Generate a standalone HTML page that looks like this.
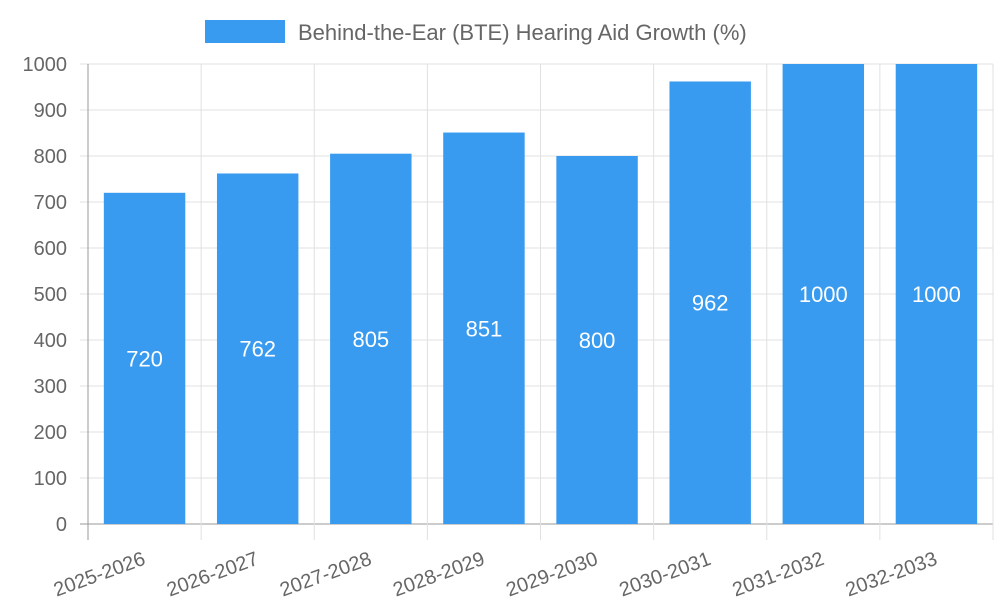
<!DOCTYPE html>
<html><head><meta charset="utf-8"><style>
html,body{margin:0;padding:0;background:#fff;}
svg{display:block;font-family:"Liberation Sans",sans-serif;}
</style></head><body>
<svg id="chart" width="1000" height="600">
<g>
<rect x="205" y="20" width="80" height="23" fill="#389bf0"></rect>
<text x="298" y="40" font-size="22" fill="#666">Behind-the-Ear (BTE) Hearing Aid Growth (%)</text>
</g>
<g id="grid"></g>
<g id="bars"></g>
<g id="axes"></g>
</svg>
<script>
const categories = ["2025-2026","2026-2027","2027-2028","2028-2029","2029-2030","2030-2031","2031-2032","2032-2033"];
const values = [720,762,805,851,800,962,1000,1000];
const yTicks = [0,100,200,300,400,500,600,700,800,900,1000];
const ns = "http://www.w3.org/2000/svg";
const L=88,R=993,T=64,B=524,yMax=1000;
const bw=(R-L)/categories.length;
const x=i=>L+i*bw;
const y=v=>B-(v/yMax)*(B-T);
function mk(tag,attrs,parent,text){const e=document.createElementNS(ns,tag);for(const k in attrs)e.setAttribute(k,attrs[k]);if(text!==undefined)e.textContent=text;parent.appendChild(e);return e;}
const grid=document.getElementById('grid'),bars=document.getElementById('bars'),axes=document.getElementById('axes');
yTicks.forEach(t=>{
  const ln=mk('line',{x1:L-8,x2:R,y1:y(t),y2:y(t),stroke:t===0?'#999':'#e0e0e0','stroke-width':1},grid);
  
  
  const tx=mk('text',{x:L-21,y:y(t)+7,'text-anchor':'end','font-size':20,fill:'#666'},axes,String(t));
  
  
});
for(let i=0;i<=categories.length;i++){
  const ln=mk('line',{x1:x(i),x2:x(i),y1:T,y2:B+16,stroke:i===0?'#999':'#e0e0e0','stroke-width':1},grid);
  
  
}
categories.forEach((c,i)=>{
  const v=values[i];
  const w=bw*0.72, cx=x(i)+bw/2;
  const r=mk('rect',{x:cx-w/2,y:y(v),width:w,height:B-y(v),fill:'#389bf0'},bars);
  
  
  const vl=mk('text',{x:cx,y:(y(v)+B)/2+8,'text-anchor':'middle','font-size':22,fill:'#fff'},bars,String(v));
  
  
  const xl=mk('text',{x:0,y:0,'text-anchor':'end','font-size':20,fill:'#666',transform:`translate(${cx+2},${B+40}) rotate(-20)`},axes,c);
  
  
});
</script>
</body></html>
